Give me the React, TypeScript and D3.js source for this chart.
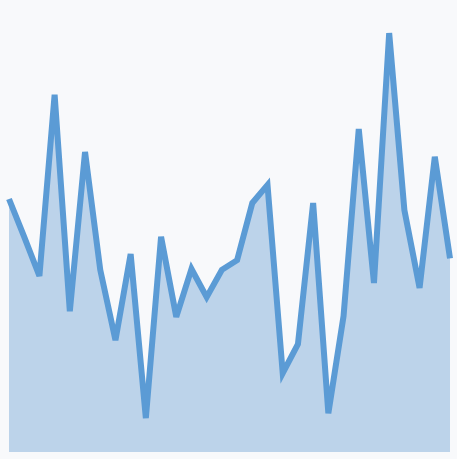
import * as d3 from "d3";

// values, one per step
const steps = d3.range(30);
const values = [
  57.5, 48.9, 40.0, 81.2, 32.0, 68.2, 41.4, 25.4, 45.0, 7.7,
  48.9, 30.7, 41.6, 35.2, 41.4, 43.6, 56.6, 60.7, 17.9, 24.5,
  56.6, 8.8, 30.9, 73.4, 38.4, 95.2, 55.0, 37.3, 67.1, 44.0,
];

const width = 457;
const height = 459;
const margin = { top: 12, right: 7, bottom: 7, left: 9 };

const App = () => {
  const x = d3
    .scaleLinear()
    .domain([0, steps.length - 1])
    .range([margin.left, width - margin.right]);

  const y = d3
    .scaleLinear()
    .domain([0, 100])
    .range([height - margin.bottom, margin.top]);

  const points = steps.map((i) => [i, values[i]]);

  const area = d3
    .area()
    .x((d) => x(d[0]))
    .y0(y(0))
    .y1((d) => y(d[1]));

  const line = d3
    .line()
    .x((d) => x(d[0]))
    .y((d) => y(d[1]));

  return (
    <svg
      width={width}
      height={height}
      style={{ position: "absolute", left: 0, top: 0, background: "#f8f9fb" }}
    >
      <path d={area(points)} fill="#bcd3ea" />
      <path
        d={line(points)}
        fill="none"
        stroke="#5b9bd5"
        strokeWidth={6}
      />
    </svg>
  );
};

export default App;
